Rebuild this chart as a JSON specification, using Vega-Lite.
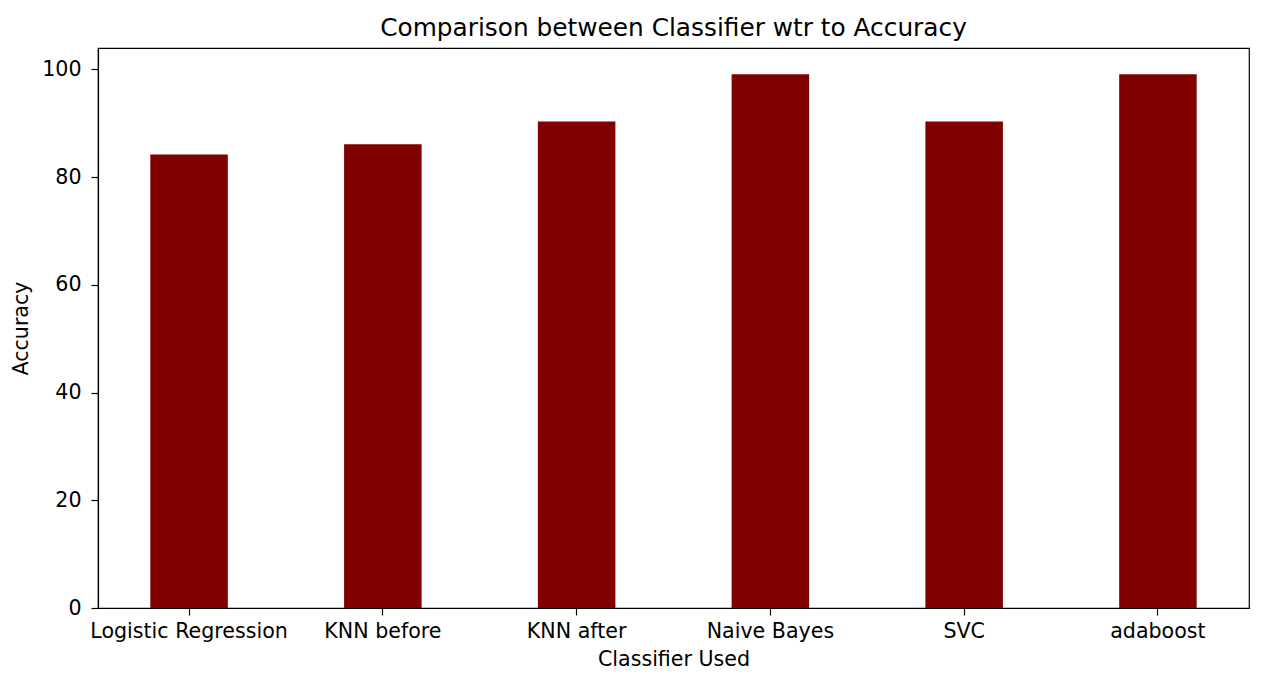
{
  "$schema": "https://vega.github.io/schema/vega-lite/v6.json",
  "autosize": {"type": "none"},
  "padding": {"left": 98, "top": 48, "right": 13, "bottom": 78},
  "width": 1151,
  "height": 560,
  "background": "white",
  "title": {
    "text": "Comparison between Classifier wtr to Accuracy",
    "anchor": "middle",
    "frame": "group",
    "fontSize": 24.8,
    "fontWeight": "normal",
    "font": "DejaVu Sans",
    "color": "black",
    "baseline": "bottom",
    "offset": 6,
    "dy": 24
  },
  "config": {
    "view": {"stroke": "black", "strokeWidth": 1.2},
    "axis": {
      "labelFont": "DejaVu Sans",
      "titleFont": "DejaVu Sans",
      "labelFontSize": 20.6,
      "titleFontSize": 20.6,
      "titleFontWeight": "normal",
      "labelColor": "black",
      "titleColor": "black",
      "domainColor": "black",
      "tickColor": "black",
      "domainWidth": 1.2,
      "tickWidth": 1.2,
      "tickSize": 7,
      "labelLimit": 0,
      "grid": false
    }
  },
  "data": {
    "values": [
      {"classifier": "Logistic Regression", "accuracy": 84.2},
      {"classifier": "KNN before", "accuracy": 86.1},
      {"classifier": "KNN after", "accuracy": 90.3},
      {"classifier": "Naive Bayes", "accuracy": 99.1},
      {"classifier": "SVC", "accuracy": 90.3},
      {"classifier": "adaboost", "accuracy": 99.1}
    ]
  },
  "mark": {"type": "bar", "color": "#800000"},
  "encoding": {
    "x": {
      "field": "classifier",
      "type": "nominal",
      "sort": null,
      "title": "Classifier Used",
      "scale": {"paddingInner": 0.6, "paddingOuter": 0.27},
      "axis": {"labelAngle": 0, "labelPadding": 6, "titlePadding": 8}
    },
    "y": {
      "field": "accuracy",
      "type": "quantitative",
      "title": "Accuracy",
      "scale": {"domain": [0, 103.95], "nice": false},
      "axis": {"values": [0, 20, 40, 60, 80, 100], "labelPadding": 10, "titlePadding": 10}
    }
  }
}
